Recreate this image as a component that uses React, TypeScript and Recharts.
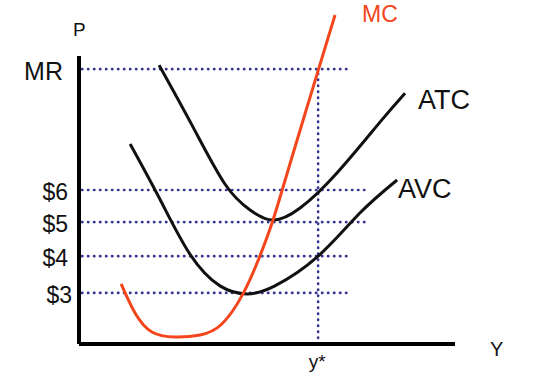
import { LineChart, Line, XAxis, YAxis, ReferenceLine, Label } from 'recharts';

// quantity (0-100) vs cost level (0-100)
const atc = [
  { q: 21.3, v: 83.5 }, { q: 30.3, v: 65.0 }, { q: 38.8, v: 47.9 }, { q: 45.5, v: 40.1 },
  { q: 51.6, v: 37.1 }, { q: 58.8, v: 40.7 }, { q: 68.6, v: 51.2 }, { q: 80.1, v: 66.5 },
  { q: 86.7, v: 75.1 },
];

const avc = [
  { q: 13.6, v: 59.9 }, { q: 21.5, v: 43.4 }, { q: 29.5, v: 26.9 }, { q: 37.5, v: 17.4 },
  { q: 44.7, v: 15.0 }, { q: 52.1, v: 17.4 }, { q: 63.6, v: 26.3 }, { q: 74.7, v: 39.2 },
  { q: 84.6, v: 49.1 },
];

const mc = [
  { q: 11.2, v: 18.0 }, { q: 14.9, v: 9.3 }, { q: 19.4, v: 3.6 }, { q: 25.5, v: 2.1 },
  { q: 32.2, v: 2.7 }, { q: 38.0, v: 6.0 }, { q: 43.6, v: 15.0 }, { q: 48.1, v: 26.3 },
  { q: 51.6, v: 37.1 }, { q: 56.1, v: 53.9 }, { q: 63.8, v: 82.6 }, { q: 68.1, v: 98.5 },
];

// price levels on the P axis and how far each dotted guide runs
const priceLabels = ['$3', '$4', '$5', '$6', 'MR'];
const priceValues = [15.3, 26.3, 36.5, 46.1, 82.3];
const guideEnds = [71.3, 72.3, 76.9, 76.1, 71.3];

const yStar = 63.6;
const axisTop = 86.2;

const FONT = '"Liberation Sans", Arial, Helvetica, sans-serif';
const RED = '#f4461c';
const GUIDE = '#363690';

const PriceTick = (props: any) => {
  const { x, y, payload } = props;
  const label = priceLabels[priceValues.indexOf(payload.value)];
  const shift = label === 'MR' ? -5 : label === '$3' ? 4 : 0;
  return (
    <text x={x + shift} y={y + 2} textAnchor="end" dominantBaseline="central"
      fontFamily={FONT} fontSize={label === 'MR' ? 25 : 23} fill="#111">
      {label}
    </text>
  );
};

const QtyTick = (props: any) => {
  const { x, y } = props;
  return (
    <text x={x - 1} y={y + 24} textAnchor="middle" fontFamily={FONT} fontSize={19} fill="#111">
      y*
    </text>
  );
};

const endLabel = (name: string, last: number, dx: number, dy: number, color: string, size: number) =>
  (p: any) =>
    p.index === last ? (
      <text key={name} x={p.x + dx} y={p.y + dy} fontFamily={FONT} fontSize={size} fill={color}>
        {name}
      </text>
    ) : (
      <g key={`${name}-${p.index}`} />
    );

export default function App() {
  return (
    <div style={{ position: 'absolute', left: 0, top: 0, background: '#fff' }}>
      <LineChart width={540} height={388} margin={{ top: 10, right: 85, left: 0, bottom: 0 }}>
        <XAxis
          type="number"
          dataKey="q"
          domain={[0, 100]}
          ticks={[yStar]}
          tick={<QtyTick />}
          tickLine={false}
          tickSize={0}
          tickMargin={0}
          height={44}
          axisLine={{ stroke: '#000', strokeWidth: 4 }}
          allowDataOverflow
        >
          <Label
            content={(p: any) => (
              <text x={p.viewBox.x + p.viewBox.width + 35} y={p.viewBox.y + 12}
                fontFamily={FONT} fontSize={20} fill="#111">Y</text>
            )}
          />
        </XAxis>
        <YAxis
          type="number"
          dataKey="v"
          domain={[0, 100]}
          ticks={priceValues}
          tick={<PriceTick />}
          tickLine={false}
          tickSize={0}
          tickMargin={11}
          width={79}
          axisLine={false}
          allowDataOverflow
        >
          <Label
            content={(p: any) => (
              <text x={p.viewBox.x + p.viewBox.width - 6} y={p.viewBox.y + 26}
                fontFamily={FONT} fontSize={19} fill="#111">P</text>
            )}
          />
        </YAxis>

        {priceValues.map((v, i) => (
          <ReferenceLine
            key={priceLabels[i]}
            segment={[{ x: 0.8, y: v }, { x: guideEnds[i], y: v }]}
            stroke={GUIDE}
            strokeWidth={2.6}
            strokeDasharray="0.4 5.6"
            strokeLinecap="round"
          />
        ))}
        <ReferenceLine
          segment={[{ x: yStar, y: 0 }, { x: yStar, y: priceValues[4] }]}
          stroke={GUIDE}
          strokeWidth={2.6}
          strokeDasharray="0.4 5.6"
          strokeLinecap="round"
        />
        <ReferenceLine
          segment={[{ x: 0, y: 0 }, { x: 0, y: axisTop }]}
          stroke="#000"
          strokeWidth={4}
        />

        <Line data={atc} dataKey="v" type="natural" stroke="#111" strokeWidth={3}
          dot={false} activeDot={false} isAnimationActive={false}
          label={endLabel('ATC', atc.length - 1, 13, 16, '#111', 27)} />
        <Line data={avc} dataKey="v" type="natural" stroke="#111" strokeWidth={3}
          dot={false} activeDot={false} isAnimationActive={false}
          label={endLabel('AVC', avc.length - 1, 1, 18, '#111', 27)} />
        <Line data={mc} dataKey="v" type="natural" stroke={RED} strokeWidth={3}
          dot={false} activeDot={false} isAnimationActive={false}
          label={endLabel('MC', mc.length - 1, 27, 7, RED, 23)} />
      </LineChart>
    </div>
  );
}
